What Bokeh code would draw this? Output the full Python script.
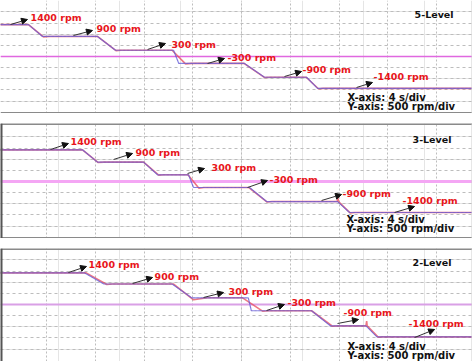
from bokeh.plotting import figure
from bokeh.layouts import column
from bokeh.models import Range1d, Span, Grid, FixedTicker, Arrow, NormalHead, ColumnDataSource
from bokeh.core.properties import value
from bokeh.embed import file_html
from bokeh.resources import INLINE

# ---------------- data ----------------
x_ticks = [4, 8, 12, 16, 20, 24, 28, 32, 36]
y_ticks = [-2000, -1500, -1000, -500, 500, 1000, 1500, 2000]
speed_labels = ["1400 rpm", "900 rpm", "300 rpm", "-300 rpm", "-900 rpm", "-1400 rpm"]
note_labels = ["X-axis: 4 s/div", "Y-axis: 500 rpm/div"]

# 5-level
t5_blue = [0.2, 2.52, 3.67, 8.18, 9.66, 14.42, 14.85, 20.24, 21.88, 25.33, 26.23, 38.94]
v5_blue = [1430, 1430, 900, 900, 280, 280, -310, -310, -930, -930, -1430, -1430]
t5_red = [0.2, 2.52, 3.75, 4.2, 8.18, 9.7, 10.1, 14.3, 15.4, 15.9, 20.2, 21.9, 22.3, 25.3, 26.3, 26.7, 38.94]
v5_red = [1430, 1430, 880, 900, 900, 265, 280, 280, -330, -310, -310, -945, -930, -930, -1445, -1430, -1430]
lab5_t = [2.69, 8.10, 14.25, 18.85, 25.0, 30.83]
lab5_v = [1749, 1256, 538, -45, -583, -897]
arr5_t0 = [1.05, 6.21, 12.29, 17.21, 23.52, 29.43]
arr5_v0 = [1435, 942, 314, -314, -897, -1390]
arr5_t1 = [2.44, 7.77, 13.76, 18.60, 24.92, 30.74]
arr5_v1 = [1659, 1166, 583, -90, -673, -1166]

# 3-level
t3_blue = [0.2, 6.95, 8.18, 11.96, 13.11, 15.65, 16.05, 16.47, 20.65, 22.05, 27.87, 28.86, 38.94]
v3_blue = [1420, 1420, 870, 870, 300, 300, -260, -270, -270, -900, -900, -1390, -1390]
t3_red = [0.2, 6.95, 8.25, 8.7, 11.96, 13.2, 13.6, 15.6, 16.5, 16.9, 20.6, 22.1, 22.5, 27.85, 27.9, 27.95, 28.9, 29.3, 38.94]
v3_red = [1420, 1420, 850, 870, 870, 285, 300, 300, -300, -270, -270, -920, -900, -900, -690, -900, -1405, -1390, -1390]
lab3_t = [5.97, 11.30, 17.54, 22.29, 28.28, 33.20]
lab3_v = [1794, 1300, 628, 90, -538, -852]
arr3_t0 = [4.33, 9.50, 15.57, 20.49, 26.56, 32.55]
arr3_v0 = [1435, 987, 359, -269, -852, -1390]
arr3_t1 = [5.80, 11.06, 16.96, 22.13, 28.20, 34.19]
arr3_v1 = [1704, 1256, 583, 45, -583, -1121]

# 2-level
t2_blue = [0.2, 7.1, 8.7, 14.3, 15.9, 20.55, 20.8, 25.74, 27.3, 30.2, 31.1, 38.94]
v2_blue = [1420, 1420, 920, 920, 300, 300, -280, -280, -960, -960, -1450, -1450]
t2_red = [0.2, 7.25, 8.95, 9.4, 14.4, 16.06, 17.2, 20.08, 21.72, 22.2, 25.74, 27.45, 27.9, 30.2, 30.26, 30.3, 31.2, 31.6, 38.94]
v2_red = [1420, 1420, 900, 920, 920, 210, 300, 300, -300, -280, -280, -975, -960, -960, -740, -960, -1465, -1450, -1450]
lab2_t = [7.45, 12.86, 18.93, 23.77, 28.36, 33.70]
lab2_v = [1794, 1256, 583, 90, -359, -852]
arr2_t0 = [5.80, 11.06, 16.88, 22.05, 27.87, 34.19]
arr2_v0 = [1435, 942, 314, -269, -852, -1480]
arr2_t1 = [7.28, 12.70, 18.52, 23.52, 29.59, 35.83]
arr2_v1 = [1704, 1211, 538, 0, -673, -1121]

titles = ["5-Level", "3-Level", "2-Level"]
title_t = [34.19, 34.02, 34.02]
title_v = [1883, 1883, 1883]
note_t = [28.69, 28.61, 28.69]
note_v = [[-1838, -2242], [-1704, -2107], [-1883, -2287]]

x_lim = (0.226, 38.94)
y_lims = [(-2556, 2511), (-2556, 2601), (-2556, 2511)]
heights = [113, 115, 113]
zero_styles = [("#e068e0", 1.5), ("#f4a6f4", 3), ("#d9a0e6", 2)]
borders = [("bottom",), ("top", "bottom", "left"), ("top", "left")]

FONT = value("DejaVu Sans")


def make_panel(i, tb, vb, tr, vr, lt, lv, a_t0, a_v0, a_t1, a_v1):
    y0, y1 = y_lims[i]
    p = figure(width=472, height=heights[i], output_backend="svg", toolbar_location=None,
               x_range=Range1d(*x_lim), y_range=Range1d(y0, y1),
               x_axis_location=None, y_axis_location=None, min_border=0,
               outline_line_color=None, background_fill_color="white")
    p.add_layout(Grid(dimension=0, ticker=FixedTicker(ticks=x_ticks), grid_line_color="#bdbdbd",
                      grid_line_dash="2 2", grid_line_width=1))
    p.add_layout(Grid(dimension=1, ticker=FixedTicker(ticks=y_ticks), grid_line_color="#bdbdbd",
                      grid_line_dash="3 3", grid_line_width=1))
    zc, zw = zero_styles[i]
    p.add_layout(Span(location=0, dimension="width", line_color=zc, line_width=zw, level="underlay"))
    for b in borders[i]:
        if b == "left":
            p.add_layout(Span(location=x_lim[0], dimension="height", line_color="#555555", line_width=4))
        else:
            loc = y0 if b == "bottom" else y1
            p.add_layout(Span(location=loc, dimension="width", line_color="#8a8a8a", line_width=3))
    p.add_layout(Span(location=x_lim[1], dimension="height", line_color="#d0d0d0", line_width=2))

    p.line(tr, vr, line_color="#e84a5a", line_width=1.6, line_alpha=0.75)
    p.line(tb, vb, line_color="#6060e0", line_width=1.2, line_alpha=0.75)
    p.line(tb, vb, line_color="#8a4a9a", line_width=0.7, line_dash="2 2", line_alpha=0.35)

    src = ColumnDataSource(dict(x0=a_t0, y0=a_v0, x1=a_t1, y1=a_v1))
    p.add_layout(Arrow(end=NormalHead(size=6, fill_color="#111111", line_color="#111111"),
                       x_start="x0", y_start="y0", x_end="x1", y_end="y1", source=src,
                       line_color="#333333", line_width=1))

    p.text(x=lt, y=lv, text=speed_labels, text_color="#e8151b", text_font=FONT,
           text_font_style="bold", text_font_size="9.5px", text_baseline="middle", text_align="left")
    p.text(x=[title_t[i]], y=[title_v[i]], text=[titles[i]], text_color="#111111", text_font=FONT,
           text_font_style="bold", text_font_size="9.5px", text_baseline="middle", text_align="left")
    p.text(x=[note_t[i], note_t[i]], y=note_v[i], text=note_labels, text_color="#111111", text_font=FONT,
           text_font_style="bold", text_font_size="10px", text_baseline="middle", text_align="left")
    return p


p1 = make_panel(0, t5_blue, v5_blue, t5_red, v5_red, lab5_t, lab5_v, arr5_t0, arr5_v0, arr5_t1, arr5_v1)
p2 = make_panel(1, t3_blue, v3_blue, t3_red, v3_red, lab3_t, lab3_v, arr3_t0, arr3_v0, arr3_t1, arr3_v1)
p3 = make_panel(2, t2_blue, v2_blue, t2_red, v2_red, lab2_t, lab2_v, arr2_t0, arr2_v0, arr2_t1, arr2_v1)

layout = column(p1, p2, p3, spacing=10)
open("out.html", "w").write(file_html(layout, INLINE))
